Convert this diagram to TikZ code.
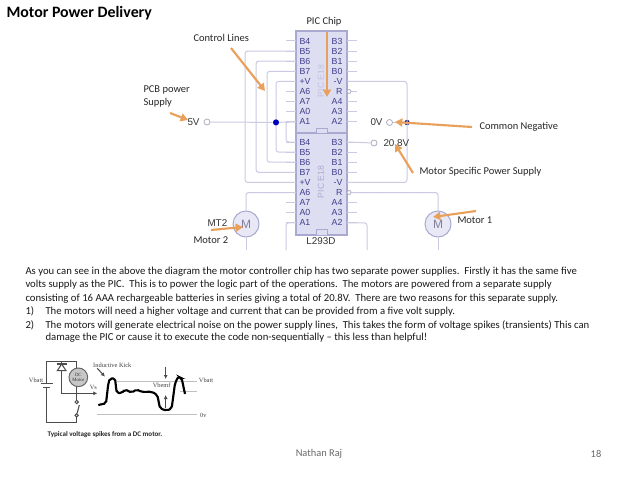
\documentclass[tikz,border=0pt]{standalone}
\usepackage{fontspec}
\setmainfont{Carlito}
\newfontfamily\pinfont{Liberation Sans}
\newfontfamily\schemfont{Liberation Serif}
\usetikzlibrary{arrows.meta}
\definecolor{wirecol}{RGB}{202,202,226}
\definecolor{chipfill}{RGB}{222,222,242}
\definecolor{chipedge}{RGB}{170,170,208}
\definecolor{pincol}{RGB}{62,62,140}
\definecolor{markcol}{RGB}{232,160,90}
\definecolor{footcol}{RGB}{105,105,105}
\tikzset{every picture/.style={line width=0.75pt}}
\tikzset{
  wire/.style={draw=wirecol,line width=0.75pt,rounded corners=2pt},
  chipbox/.style={draw=chipedge,fill=chipfill,line width=0.8pt},
  pinlab/.style={inner sep=0pt,text=pincol,font=\pinfont\fontsize{6.6}{7}\selectfont},
  term/.style={circle,draw=wirecol!85!black,fill=white,minimum size=4.5pt,inner sep=0pt,line width=0.6pt},
  jdot/.style={circle,fill=blue!75!black,minimum size=4.6pt,inner sep=0pt},
  motorsym/.style={circle,draw=chipedge,fill=chipfill!70!white,minimum size=19.5pt,inner sep=0pt,text=chipedge!75!black,font=\pinfont\fontsize{9}{9}\selectfont},
  markarrow/.style={draw=markcol,line width=1.6pt,-{Triangle[width=6pt,length=5.5pt]}},
  callout/.style={inner sep=0pt,anchor=west,text=black!85,font=\fontsize{7.85}{9.8}\selectfont},
  schemlab/.style={inner sep=0pt,text=black!80,font=\pinfont\fontsize{7.4}{9}\selectfont},
  bodyline/.style={inner sep=0pt,anchor=west,text=black!90,font=\fontsize{8.03}{10}\selectfont},
  footlab/.style={inner sep=0pt,text=footcol,font=\fontsize{7.8}{9}\selectfont},
  kickline/.style={draw=black!70,line width=0.8pt},
  levelline/.style={draw=black!25,line width=0.4pt},
  kicklab/.style={inner sep=0pt,text=black!75,font=\schemfont\fontsize{4.8}{6}\selectfont}
}
\begin{document}
\begin{tikzpicture}[x=0.75pt,y=0.75pt,yscale=-1,xscale=1]
\useasboundingbox (0,0) rectangle (638,478);

% Faint grid
\foreach \gx in {205,222,...,500}
  \foreach \gy in {30,47,...,250}
    \fill[black!10] (\gx,\gy) circle [radius=0.3pt];

% Chips
\draw[chipbox] (296,31) rectangle (347,133);
\draw[chipbox] (296,133) rectangle (347,235);
\draw[chipedge,fill=chipfill] (316,128) rectangle (327,133);
\draw[chipedge,fill=chipfill] (316,229) rectangle (327,235);
\node[rotate=90,text=chipedge!55!chipfill,font=\pinfont\fontsize{6.5}{7}\selectfont] (icpale) at (321,81) {PIC E18};
\node[rotate=90,text=chipedge,font=\pinfont\fontsize{6.5}{7}\selectfont] (icname) at (321,182) {PIC E18};

% Pins
\foreach \pinname [count=\i] in {B4,B5,B6,B7,+V,A6,A7,A0,A1} {
  \coordinate (ule\i) at (296,{41+(\i-1)*10.1});
  \coordinate (lle\i) at (296,{142+(\i-1)*10.1});
  \node[pinlab,anchor=west] (ul\i) at (299,{41+(\i-1)*10.1}) {\pinname};
  \node[pinlab,anchor=west] (ll\i) at (299,{142+(\i-1)*10.1}) {\pinname};
  \draw[wire] (ule\i) -- ++(-10,0);
  \draw[wire] (lle\i) -- ++(-10,0);
}
\foreach \pinname [count=\i] in {B3,B2,B1,B0,-V,R,A4,A3,A2} {
  \coordinate (ure\i) at (347,{41+(\i-1)*10.1});
  \coordinate (lre\i) at (347,{142+(\i-1)*10.1});
  \node[pinlab,anchor=east] (ur\i) at (343,{41+(\i-1)*10.1}) {\pinname};
  \node[pinlab,anchor=east] (lr\i) at (343,{142+(\i-1)*10.1}) {\pinname};
  \draw[wire] (ure\i) -- ++(10,0);
  \draw[wire] (lre\i) -- ++(10,0);
}
\node[term,minimum size=3pt] (tru) at (349,91.5) {};
\node[term,minimum size=3pt] (trl) at (349,192.5) {};

% Bus corners
\coordinate (busa) at (245,120);
\coordinate (busb) at (256,120);
\coordinate (busc) at (267,120);
\coordinate (busd) at (276,130);
\coordinate (buse) at (286,132);
\coordinate (rbus) at (407,130);
\coordinate (enda) at (286,250);
\coordinate (endb) at (367,250);
\coordinate (endl) at (246,250);
\coordinate (endr) at (438,250);

% Terminals and motors
\node[term] (tfive) at (207,122) {};
\node[term] (tzero) at (389.5,122.5) {};
\node[term] (tbat) at (374,143) {};
\node[motorsym] (motorl) at (246,224) {M};
\node[motorsym] (motorr) at (438,224) {M};

% Wires
\draw[wire] (ule2) -| (busa) |- (lle5);
\draw[wire] (ule3) -| (busb) |- (lle4);
\draw[wire] (ule4) -| (busc) |- (lle3);
\draw[wire] (ule5) -| (busd) |- (lle2);
\draw[wire] (ule9) -| (buse) |- (lle1);
\node[jdot] (djoin) at (276,122.4) {};
\node[jdot,fill=blue!50!black,minimum size=4pt] (djoinr) at (407,122.5) {};
\draw[wire] (tfive) -- (djoin);
\draw[wire] (djoin) -- (ule9);
\draw[wire] (ure5) -| (rbus) |- (lre5);
\draw[wire] (tzero) -- (djoinr);
\draw[wire] (lre1) -- (tbat);
\draw[wire] (trl) -| (motorr);
\draw[wire] (motorr) -- (endr);
\draw[wire] (lle6) -| (motorl);
\draw[wire] (motorl) -- (endl);
\draw[wire] (lle9) -| (enda);
\draw[wire] (lre9) -| (endb);

% Text Node
\node[inner sep=0pt,anchor=west,font=\bfseries\fontsize{11.9}{13}\selectfont] (title) at (6,13) {Motor Power Delivery};
\node[callout,anchor=center] (lblchip) at (324,22) {PIC Chip};
\node[callout] (lblctrl) at (193,38) {Control Lines};
\node[callout,align=left] (lblpcb) at (143,96.5) {PCB power\\Supply};
\node[callout] (lblneg) at (479,127) {Common Negative};
\node[callout] (lblsup) at (419,172) {Motor Specific Power Supply};
\node[callout] (lblmone) at (457,220) {Motor 1};
\node[callout] (lblmtwo) at (193,240) {Motor 2};
\node[schemlab,anchor=west] (lblfive) at (187,122) {5V};
\node[schemlab,anchor=west] (lblzero) at (370,122) {0V};
\node[schemlab,anchor=west] (lblbat) at (383,143) {20.8V};
\node[schemlab,anchor=west] (lblmt) at (207,223) {MT2};
\node[schemlab] (lblic) at (321,241) {L293D};

% Callout arrows
\coordinate (ctrlfrom) at (231,48);
\coordinate (ctrlto) at (265,91);
\coordinate (chipfrom) at (327,32);
\coordinate (chipto) at (327,97);
\coordinate (pcbfrom) at (170,113);
\coordinate (pcbto) at (188,120);
\coordinate (negfrom) at (472,127);
\coordinate (negto) at (395,122);
\coordinate (supfrom) at (413,173);
\coordinate (supto) at (395,144);
\coordinate (mrfrom) at (476,211);
\coordinate (mrto) at (433,217);
\coordinate (mlfrom) at (211,230);
\coordinate (mlto) at (243,227);
\draw[markarrow] (ctrlfrom) -- (ctrlto);
\draw[markarrow] (chipfrom) -- (chipto);
\draw[markarrow] (pcbfrom) -- (pcbto);
\draw[markarrow] (negfrom) -- (negto);
\draw[markarrow] (supfrom) -- (supto);
\draw[markarrow] (mrfrom) -- (mrto);
\draw[markarrow] (mlfrom) -- (mlto);

% Body text
\node[bodyline] (txta) at (25,272) {As you can see in the above the diagram the motor controller chip has two separate power supplies.\ \ Firstly it has the same five};
\node[bodyline] (txtb) at (25,285) {volts supply as the PIC.\ \ This is to power the logic part of the operations.\ \ The motors are powered from a separate supply};
\node[bodyline] (txtc) at (25,298.5) {consisting of 16 AAA rechargeable batteries in series giving a total of 20.8V.\ \ There are two reasons for this separate supply.};
\node[bodyline] (txtd) at (25,311.5) {1)};
\node[bodyline] (txte) at (45,311.5) {The motors will need a higher voltage and current that can be provided from a five volt supply.};
\node[bodyline] (txtf) at (25,325) {2)};
\node[bodyline] (txtg) at (45,325) {The motors will generate electrical noise on the power supply lines,\ \ This takes the form of voltage spikes (transients) This can};
\node[bodyline] (txth) at (45,338) {damage the PIC or cause it to execute the code non-sequentially -- this less than helpful!};

% Spike figure
\begin{scope}[shift={(20,350)},x=0.25pt,y=0.25pt]
\coordinate (ctl) at (80,35);
\coordinate (cbr) at (170,218);
\coordinate (dtop) at (125,35);
\coordinate (dbot) at (125,130);
\coordinate (vsend) at (232,130);
\draw[kickline] (ctl) rectangle (cbr);
\draw[kickline] (dtop) -- (dbot) -- (170,130);
\draw[kickline,-{Latex[length=3pt,width=3pt]}] (170,130) -- (vsend);
\draw[kickline,fill=white] (125,62) -- (112,62) -- (125,42) -- (138,62) -- cycle;
\draw[kickline] (110,42) -- (140,42);
\draw[kickline,white,line width=2pt] (80,100) -- (80,112);
\draw[kickline] (62,100) -- (98,100);
\draw[kickline,line width=1.1pt] (70,112) -- (90,112);
\node[circle,draw=black!60,fill=black!22,minimum size=14pt,inner sep=0pt,align=center,text=black!80,font=\schemfont\fontsize{3.6}{4}\selectfont] (motordc) at (175,82) {DC\\Motor};
\draw[kickline,white,line width=2pt] (170,155) -- (170,190);
\node[circle,draw=black!70,fill=white,minimum size=2.5pt,inner sep=0pt] (swa) at (170,156) {};
\node[circle,draw=black!70,fill=white,minimum size=2.5pt,inner sep=0pt] (swb) at (170,196) {};
\draw[kickline] (swb) -- (178,165);
\draw[levelline] (290,95) -- (530,95);
\draw[levelline] (480,125) -- (530,125);
\draw[levelline] (230,193) -- (530,193);
\draw[black,line width=1.6pt,rounded corners=1.5pt] (235,165) -- (258,160) -- (265,100) -- (270,85) -- (285,85) -- (290,128) -- (305,130) -- (315,118) -- (335,128) -- (350,118) -- (365,126) -- (395,125) -- (412,135) -- (420,175) -- (440,182) -- (455,175) -- (465,100) -- (475,80) -- (485,85) -- (495,132);
\draw[kickline,-{Latex[length=3pt,width=3pt]}] (232,55) -- (255,80);
\draw[kickline,-{Latex[length=3pt,width=3pt]}] (437,50) -- (437,87);
\draw[kickline,-{Latex[length=3pt,width=3pt]}] (437,175) -- (437,135);
\node[kicklab] (kicka) at (277,47) {Inductive Kick};
\node[kicklab] (kickb) at (48,90) {Vbatt};
\node[kicklab] (kickc) at (220,113) {Vs};
\node[kicklab] (kickd) at (425,105) {Vbemf};
\node[kicklab] (kicke) at (558,90) {Vbatt};
\node[kicklab] (kickf) at (550,195) {0v};
\end{scope}
\node[inner sep=0pt,anchor=west,text=black!85,font=\bfseries\fontsize{5.3}{6}\selectfont] (caption) at (47,435) {Typical voltage spikes from a DC motor.};

% Footer
\node[footlab] (footname) at (319,454) {Nathan Raj};
\node[footlab] (footpage) at (596,454) {18};
\end{tikzpicture}
\end{document}
